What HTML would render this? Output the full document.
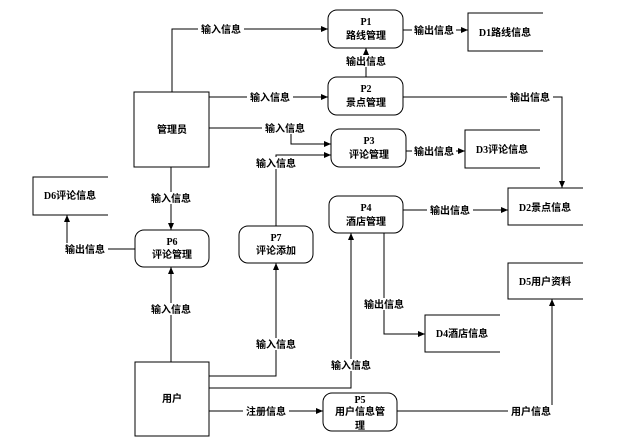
<!DOCTYPE html>
<html><head><meta charset="utf-8"><style>
html,body{margin:0;padding:0;background:#fff;}
svg{display:block;}
text{font-family:"Liberation Serif","Noto Sans CJK SC","WenQuanYi Zen Hei",sans-serif;font-size:10px;font-weight:bold;fill:#000;text-anchor:middle;}
.l{fill:none;stroke:#000;stroke-width:1;}
.bg{fill:#fff;stroke:none;}
</style></head><body>
<svg width="624" height="445" viewBox="0 0 624 445">
<defs><marker id="a" markerWidth="8" markerHeight="8" refX="7" refY="4" orient="auto" markerUnits="userSpaceOnUse"><path d="M0,1 L7,4 L0,7 z" fill="#000"/></marker></defs>
<path class="l" d="M172,92 V29 H328" marker-end="url(#a)"/>
<path class="l" d="M403,30 H468" marker-end="url(#a)"/>
<path class="l" d="M366,77 V48" marker-end="url(#a)"/>
<path class="l" d="M209,97 H328" marker-end="url(#a)"/>
<path class="l" d="M403,97 H562 V188" marker-end="url(#a)"/>
<path class="l" d="M209,128 H291 V144 H331" marker-end="url(#a)"/>
<path class="l" d="M276,226 V155 H331" marker-end="url(#a)"/>
<path class="l" d="M406,151 H465" marker-end="url(#a)"/>
<path class="l" d="M171,167 V230" marker-end="url(#a)"/>
<path class="l" d="M135,249 H67 V215" marker-end="url(#a)"/>
<path class="l" d="M403,210 H508" marker-end="url(#a)"/>
<path class="l" d="M384,233 V334 H425" marker-end="url(#a)"/>
<path class="l" d="M171,362 V267" marker-end="url(#a)"/>
<path class="l" d="M209,376 H276 V263" marker-end="url(#a)"/>
<path class="l" d="M209,388 H351 V233" marker-end="url(#a)"/>
<path class="l" d="M209,411 H323" marker-end="url(#a)"/>
<path class="l" d="M397,411 H552 V299" marker-end="url(#a)"/>
<g>
<rect class="bg" x="198" y="23" width="46" height="12"/><text x="221" y="33">输入信息</text>
<rect class="bg" x="412" y="24" width="44" height="12"/><text x="434" y="34">输出信息</text>
<rect class="bg" x="343" y="55" width="46" height="12"/><text x="366" y="65">输出信息</text>
<rect class="bg" x="247" y="91" width="46" height="12"/><text x="270" y="101">输入信息</text>
<rect class="bg" x="507" y="91" width="46" height="12"/><text x="530" y="101">输出信息</text>
<rect class="bg" x="262" y="122" width="46" height="12"/><text x="285" y="132">输入信息</text>
<rect class="bg" x="253" y="157" width="46" height="12"/><text x="276" y="167">输入信息</text>
<rect class="bg" x="412" y="145" width="44" height="12"/><text x="434" y="155">输出信息</text>
<rect class="bg" x="148" y="192" width="46" height="12"/><text x="171" y="202">输入信息</text>
<rect class="bg" x="62" y="243" width="46" height="12"/><text x="85" y="253">输出信息</text>
<rect class="bg" x="427" y="204" width="46" height="12"/><text x="450" y="214">输出信息</text>
<rect class="bg" x="361" y="298" width="46" height="12"/><text x="384" y="308">输出信息</text>
<rect class="bg" x="148" y="303" width="46" height="12"/><text x="171" y="313">输入信息</text>
<rect class="bg" x="253" y="338" width="46" height="12"/><text x="276" y="348">输入信息</text>
<rect class="bg" x="328" y="359" width="46" height="12"/><text x="351" y="369">输入信息</text>
<rect class="bg" x="243" y="405" width="46" height="12"/><text x="266" y="415">注册信息</text>
<rect class="bg" x="508" y="405" width="46" height="12"/><text x="531" y="415">用户信息</text>
</g>
<g class="l">
<rect x="328" y="10" width="75" height="38" rx="9"/>
<rect x="328" y="77" width="75" height="38" rx="9"/>
<rect x="331" y="129" width="75" height="38" rx="9"/>
<rect x="329" y="196" width="74" height="37" rx="9"/>
<rect x="135" y="230" width="74" height="37" rx="9"/>
<rect x="239" y="226" width="74" height="37" rx="9"/>
<rect x="323" y="393" width="74" height="38" rx="9"/>
<rect x="134" y="92" width="75" height="75" fill="#fff"/>
<rect x="135" y="362" width="74" height="74" fill="#fff"/>
<path d="M543,13 H468 V51 H543"/>
<path d="M540,130 H465 V168 H540"/>
<path d="M583,188 H508 V225 H583"/>
<path d="M108,177 H33 V215 H108"/>
<path d="M500,315 H425 V352 H500"/>
<path d="M583,263 H508 V299 H583"/>
</g>
<text x="366" y="25">P1</text><text x="366" y="39">路线管理</text>
<text x="366" y="92">P2</text><text x="366" y="106">景点管理</text>
<text x="369" y="144">P3</text><text x="369" y="158">评论管理</text>
<text x="366" y="211">P4</text><text x="366" y="225">酒店管理</text>
<text x="172" y="245">P6</text><text x="172" y="258">评论管理</text>
<text x="276" y="241">P7</text><text x="276" y="254">评论添加</text>
<text x="360" y="403">P5</text><text x="360" y="415">用户信息管</text><text x="360" y="429">理</text>
<text x="172" y="133">管理员</text>
<text x="172" y="402">用户</text>
<text x="505" y="36">D1路线信息</text>
<text x="502" y="153">D3评论信息</text>
<text x="545" y="211">D2景点信息</text>
<text x="70" y="199">D6评论信息</text>
<text x="462" y="337">D4酒店信息</text>
<text x="545" y="285">D5用户资料</text>
</svg>
</body></html>
